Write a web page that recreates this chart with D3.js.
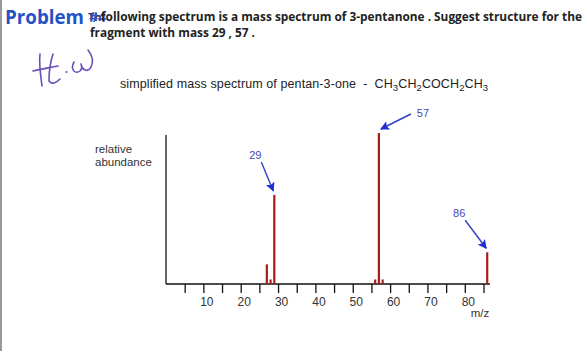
<!DOCTYPE html>
<html>
<head>
<meta charset="utf-8">
<script src="https://cdn.jsdelivr.net/npm/d3@7"></script>
<style>
  body { margin: 0; background: #fff; }
  svg { display: block; }
</style>
</head>
<body>
<div id="chart"></div>
<script>
'use strict';

// peaks (m/z, relative abundance, tallest = 100)
const mz_values = [27, 28, 29, 56, 57, 58, 86];
const abundance = [13, 3, 59, 3, 100, 3, 21];

// axis ticks
const minor_ticks = [5, 10, 15, 20, 25, 30, 35, 40, 45, 50, 55, 60, 65, 70, 75, 80, 85];
const tick_labels = [10, 20, 30, 40, 50, 60, 70, 80];

// labelled peaks with arrows
const label_mz = [29, 57, 86];
const label_dx = [-19, 44, -28];   // label offset from peak top
const label_dy = [-40, -20, -39];

const width = 588, height = 351;
const plot = { left: 166, right: 490, top: 135, bottom: 284 };

const svg = d3.select('#chart').append('svg')
  .attr('width', width)
  .attr('height', height);

svg.append('defs').append('marker')
  .attr('id', 'arrow')
  .attr('viewBox', '0 0 10 10')
  .attr('refX', 9).attr('refY', 5)
  .attr('markerWidth', 7).attr('markerHeight', 6.5)
  .attr('markerUnits', 'strokeWidth')
  .attr('orient', 'auto')
  .append('path')
  .attr('d', 'M0,0 L10,5 L0,10 L2,5 z')
  .attr('fill', '#1f2fd0');

// grey page edge on the left
svg.append('line')
  .attr('x1', 1).attr('x2', 1).attr('y1', 0).attr('y2', height)
  .attr('stroke', '#9a9a9a').attr('stroke-width', 2);

// heading
const head = svg.append('g').style('font-family', '"Open Sans", "Liberation Sans", sans-serif').style('font-weight', 'bold');
head.append('text')
  .attr('x', 5).attr('y', 24)
  .attr('fill', '#2451c4')
  .style('font-size', '19px')
  .attr('textLength', 79)
  .attr('lengthAdjust', 'spacingAndGlyphs')
  .text('Problem');
head.append('text')
  .attr('x', 88).attr('y', 21)
  .attr('fill', '#333')
  .style('font-size', '11px')
  .text('Th');
head.append('text')
  .attr('x', 89).attr('y', 22)
  .attr('fill', '#2e56c9')
  .style('font-size', '14px')
  .text('#4');
head.append('text')
  .attr('x', 101).attr('y', 21)
  .attr('fill', '#222')
  .style('font-size', '11.5px')
  .attr('textLength', 481)
  .attr('lengthAdjust', 'spacingAndGlyphs')
  .text('following spectrum is a mass spectrum of 3-pentanone . Suggest structure for the');
head.append('text')
  .attr('x', 90).attr('y', 37)
  .attr('fill', '#222')
  .style('font-size', '11.5px')
  .attr('textLength', 165)
  .attr('lengthAdjust', 'spacingAndGlyphs')
  .text('fragment with mass 29 , 57 .');

// handwritten note "H.w"
const hand = svg.append('g')
  .attr('fill', 'none')
  .attr('stroke', '#6a4fb8')
  .attr('stroke-width', 1.6)
  .attr('stroke-linecap', 'round')
  .attr('stroke-linejoin', 'round');
hand.append('path').attr('d', 'M40,54 C39,62 40,72 42,86');
hand.append('path').attr('d', 'M33,71 C40,69 48,68 58,66');
hand.append('path').attr('d', 'M53,54 C50,63 49,72 49,81 C52,85 56,83 60,79');
hand.append('path').attr('d', 'M66,72 L67,72');
hand.append('path').attr('d', 'M74,62 C70,69 75,75 80,71 C82,69 82,66 81,64 C82,70 88,73 91,67 C94,61 92,55 88,50');

// subtitle
const sub = svg.append('text')
  .attr('x', 120).attr('y', 88)
  .attr('fill', '#222')
  .style('white-space', 'pre')
  .style('font-family', '"Liberation Sans", Arial, sans-serif')
  .style('font-size', '12.5px')
  .style('letter-spacing', '0.1px');
sub.append('tspan').text('simplified mass spectrum of pentan-3-one  -  CH');
[['3', 'CH'], ['2', 'COCH'], ['2', 'CH'], ['3', '']].forEach(([s, t]) => {
  sub.append('tspan').attr('dy', 3).style('font-size', '9.5px').text(s);
  if (t) sub.append('tspan').attr('dy', -3).text(t);
});

// scales
const x_scale = d3.scaleLinear()
  .domain([0, 86.7])
  .range([plot.left, plot.left + 86.7 * 3.735]);

const y_scale = d3.scaleLinear()
  .domain([0, 100])
  .range([plot.bottom, 133]);

const chart_g = svg.append('g');

// y axis line
chart_g.append('line')
  .attr('x1', x_scale(0)).attr('x2', x_scale(0))
  .attr('y1', y_scale(0)).attr('y2', y_scale(98.7))
  .attr('stroke', '#111').attr('stroke-width', 1.3);

// x axis
const xAxis = d3.axisBottom(x_scale)
  .tickValues(minor_ticks)
  .tickSize(9)
  .tickSizeOuter(0)
  .tickFormat(d => tick_labels.includes(d) ? d : '');

const xAxisGroup = chart_g.append('g')
  .attr('transform', `translate(0,${plot.bottom})`)
  .call(xAxis);
xAxisGroup.select('.domain')
  .attr('d', `M${x_scale(0)},0H${plot.right}`)
  .attr('stroke', '#111').attr('stroke-width', 1.3);
xAxisGroup.selectAll('.tick line').attr('stroke', '#111').attr('stroke-width', 1.3);
xAxisGroup.selectAll('.tick text')
  .attr('dx', 3)
  .attr('y', 13)
  .attr('fill', '#333')
  .style('font-family', '"Liberation Sans", Arial, sans-serif')
  .style('font-size', '12px');

xAxisGroup.append('text')
  .attr('x', 480).attr('y', 33)
  .attr('fill', '#333')
  .attr('text-anchor', 'middle')
  .style('font-family', '"Liberation Sans", Arial, sans-serif')
  .style('font-size', '11.5px')
  .text('m/z');

// y title
const yt = svg.append('text')
  .attr('fill', '#333')
  .style('font-family', '"Liberation Sans", Arial, sans-serif')
  .style('font-size', '11.5px');
yt.append('tspan').attr('x', 95).attr('y', 153).text('relative');
yt.append('tspan').attr('x', 95).attr('y', 166).text('abundance');

// peaks
const peaks = mz_values.map((m, i) => ({ mz: m, value: abundance[i] }));
chart_g.append('g')
  .selectAll('line')
  .data(peaks)
  .join('line')
  .attr('x1', d => x_scale(d.mz))
  .attr('x2', d => x_scale(d.mz))
  .attr('y1', y_scale(0))
  .attr('y2', d => y_scale(d.value))
  .attr('stroke', '#a81c1c')
  .attr('stroke-width', 2.2);

// peak labels with arrows
const labels = label_mz.map((m, i) => ({
  mz: m,
  value: abundance[mz_values.indexOf(m)],
  dx: label_dx[i],
  dy: label_dy[i]
}));

const label_g = chart_g.append('g')
  .selectAll('g')
  .data(labels)
  .join('g');

label_g.append('text')
  .attr('x', d => x_scale(d.mz) + d.dx)
  .attr('y', d => y_scale(d.value) + d.dy + 4)
  .attr('text-anchor', 'middle')
  .attr('fill', '#4a46b4')
  .style('font-family', '"Liberation Sans", Arial, sans-serif')
  .style('font-size', '11px')
  .text(d => d.mz);

label_g.append('line')
  .attr('x1', d => {
    const x0 = x_scale(d.mz);
    return d.dx > 0 ? x0 + d.dx - 12 : x0 + d.dx + 6;
  })
  .attr('y1', d => y_scale(d.value) + d.dy + (d.dx > 0 ? 1 : 7))
  .attr('x2', d => x_scale(d.mz) + (d.dx > 0 ? 2 : -1))
  .attr('y2', d => y_scale(d.value) - 4)
  .attr('stroke', '#3040c8')
  .attr('stroke-width', 1.4)
  .attr('marker-end', 'url(#arrow)');
</script>
</body>
</html>
